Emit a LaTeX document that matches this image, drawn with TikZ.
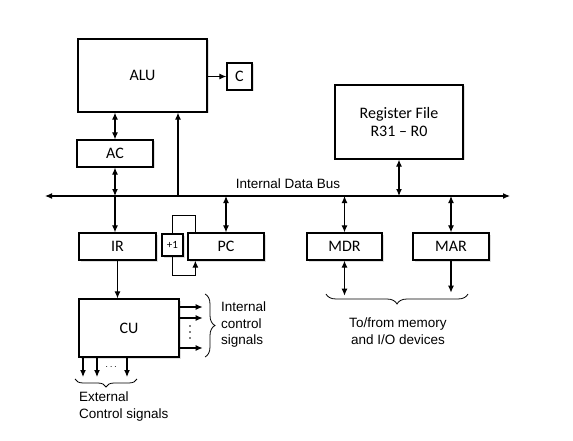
\documentclass[tikz,border=0pt]{standalone}
\usepackage{amsmath, amssymb}
\usepackage{fontspec}
\setmainfont{Liberation Sans}
\newfontfamily\boxfont{Carlito}
\usepackage{tikz}
\usetikzlibrary{arrows.meta}
\usetikzlibrary{shadows}
\usetikzlibrary{decorations.pathreplacing}

\begin{document}
\begin{tikzpicture}[x=1pt, y=-1pt, >={Latex[length=7pt,width=6pt]},
    reg/.style={draw, line width=1.3pt, inner sep=0pt, fill=white,
      drop shadow={shadow xshift=1.5pt, shadow yshift=-1.5pt, opacity=0.25},
      font=\boxfont\fontsize{16}{19}\selectfont},
    sig/.style={line width=1.1pt},
    brc/.style={decorate, decoration={brace, amplitude=#1}, line width=0.8pt},
    brc/.default=10pt,
    lbl/.style={font=\fontsize{13.5}{16.5}\selectfont, align=left, inner sep=0pt}]
      \useasboundingbox (0,0) rectangle (573,441);
      % \draw[line width=0.1mm, color=black!20] (0,0) grid[step=50] (573,441);

      % registers and units
      \node[reg, minimum width=129pt, minimum height=73pt] (ALU) at (142.5,75.5) {ALU};
      \node[reg, minimum width=25pt, minimum height=27pt] (C) at (239.5,76.5) {C};
      \node[reg, minimum width=76pt, minimum height=27pt] (AC) at (115,153.5) {AC};
      \node[reg, minimum width=128pt, minimum height=74pt, align=center] (RF) at (399,122)
        {Register File\\[-1pt]R31 \textendash{} R0};
      \node[reg, minimum width=77pt, minimum height=27pt] (IR) at (117.5,246.5) {IR};
      \node[reg, minimum width=21pt, minimum height=22pt,
        font=\boxfont\fontsize{11}{13}\selectfont] (plus) at (172.5,245) {+1};
      \node[reg, minimum width=76pt, minimum height=27pt] (PC) at (226,246.5) {PC};
      \node[reg, minimum width=75pt, minimum height=27pt] (MDR) at (344.5,246.5) {MDR};
      \node[reg, minimum width=76pt, minimum height=27pt] (MAR) at (451,246.5) {MAR};
      \node[reg, minimum width=100pt, minimum height=58pt] (CU) at (129,328) {CU};

      % internal data bus
      \coordinate (busL) at (45,196);
      \coordinate (busR) at (510,196);
      \coordinate (aluin) at (178,196);
      \draw[sig, <->] (busL) -- (busR);
      \node[lbl] (buslbl) at (288,184) {Internal Data Bus};

      % connections
      \draw[sig, ->] (ALU.east |- C.west) -- (C.west);
      \draw[sig, <->] (ALU.south -| AC.north) -- (AC.north);
      \draw[sig, <->] (AC.south) -- (AC.south |- busL);
      \draw[sig, ->] (aluin) -- (aluin |- ALU.south);
      \draw[sig, <->] (RF.south) -- (RF.south |- busL);
      \draw[sig, ->] (busL -| AC.south) -- (IR.north -| AC.south);
      \draw[sig, <->] (busL -| PC.north) -- (PC.north);
      \draw[sig, <->] (busL -| MDR.north) -- (MDR.north);
      \draw[sig, <->] (busL -| MAR.north) -- (MAR.north);
      \draw[sig, ->] (IR.south) -- (IR.south |- CU.north);

      % +1 loop round PC
      \draw[sig] ([xshift=8pt]PC.north west) -- ++(0,-17) -| (plus.north);
      \draw[sig, ->] (plus.south) -- ++(0,19) -| ([xshift=8pt]PC.south west);

      % memory side
      \draw[sig, <->] (MDR.south) -- ++(0,35);
      \draw[sig, ->] (MAR.south) -- ++(0,32);
      \draw[brc] (468,294) -- (326,294);
      \node[lbl, align=center] (memlbl) at (398,331) {To/from memory\\and I/O devices};

      % control signals
      \foreach \y in {307,318,348}
        \draw[sig, ->] (CU.east |- 0,\y) -- ++(23,0);
      \foreach \y in {326,332,338}
        \fill (190,\y) circle (0.8pt);
      \draw[brc] (205,294) -- (205,357);
      \node[lbl, anchor=west] (intlbl) at (221,325) {Internal\\control\\signals};

      \foreach \x in {83,97,127}
        \draw[sig, ->] (\x,0 |- CU.south) -- (\x,377);
      \node[font=\fontsize{10}{10}\selectfont, inner sep=0pt] (hdot) at (112,367) {$\cdots$};
      \draw[brc=8pt] (137,379) -- (75,379);
      \node[lbl, anchor=north west] (extlbl) at (79,392) {External\\Control signals};

      \end{tikzpicture}
\end{document}
